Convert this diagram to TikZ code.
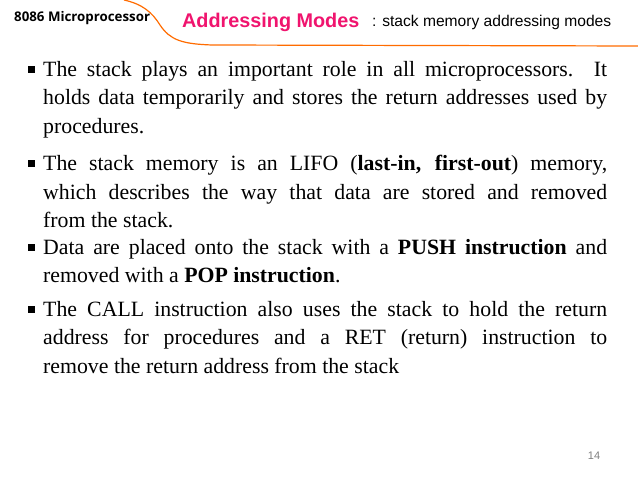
\documentclass[tikz,border=0pt]{standalone}
\usepackage{fontspec}
\setmainfont{Liberation Serif}
\setsansfont{Liberation Sans}
\newfontfamily\hdfont{Open Sans}
\begin{document}
\begin{tikzpicture}[x=1pt,y=-1pt,
  para/.style={anchor=north west,inner sep=0pt,text width=564pt,align=justify,font=\fontsize{21.8}{28.5}\selectfont},
  bul/.style={fill=black,minimum size=7pt,inner sep=0pt}]
\useasboundingbox (0,0) rectangle (638,478);
\fill[white] (0,0) rectangle (638,478);
\draw[orange!85!red,line width=1.2pt] (124,0) .. controls (142,4) and (152,12) .. (160,25) .. controls (170,40) and (182,44) .. (212,45) -- (638,46);
\node[anchor=west,inner sep=0pt,font=\hdfont\bfseries\fontsize{13.3}{16}\selectfont] (t1) at (14,18) {8086 Microprocessor};
\node[anchor=west,inner sep=0pt,font=\sffamily\bfseries\fontsize{19.8}{22}\selectfont,text={rgb,255:red,240;green,20;blue,110}] (t2) at (182,22) {Addressing Modes};
\node[anchor=west,inner sep=0pt,font=\sffamily\fontsize{15.6}{17}\selectfont] (t3) at (372,22) {: stack memory addressing modes};
\node[para] (p1) at (43,61) {The stack plays an important role in all microprocessors. It\linebreak holds data temporarily and stores the return addresses used by\linebreak procedures.};
\node[para] (p2) at (43,155) {The stack memory is an LIFO (\textbf{last-in, first-out}) memory,\linebreak which describes the way that data are stored and removed\linebreak from the stack.};
\node[para] (p3) at (43,239) {Data are placed onto the stack with a \textbf{PUSH instruction} and\linebreak removed with a \textbf{POP instruction}.};
\node[para] (p4) at (43,301) {The CALL instruction also uses the stack to hold the return\linebreak address for procedures and a RET (return) instruction to\linebreak remove the return address from the stack};
\node[bul] (b1) at (31,70) {};
\node[bul] (b2) at (31,164) {};
\node[bul] (b3) at (31,248) {};
\node[bul] (b4) at (31,310) {};
\node[font=\sffamily\fontsize{11}{13}\selectfont,text=gray] (pg) at (594,456) {14};
\end{tikzpicture}
\end{document}
